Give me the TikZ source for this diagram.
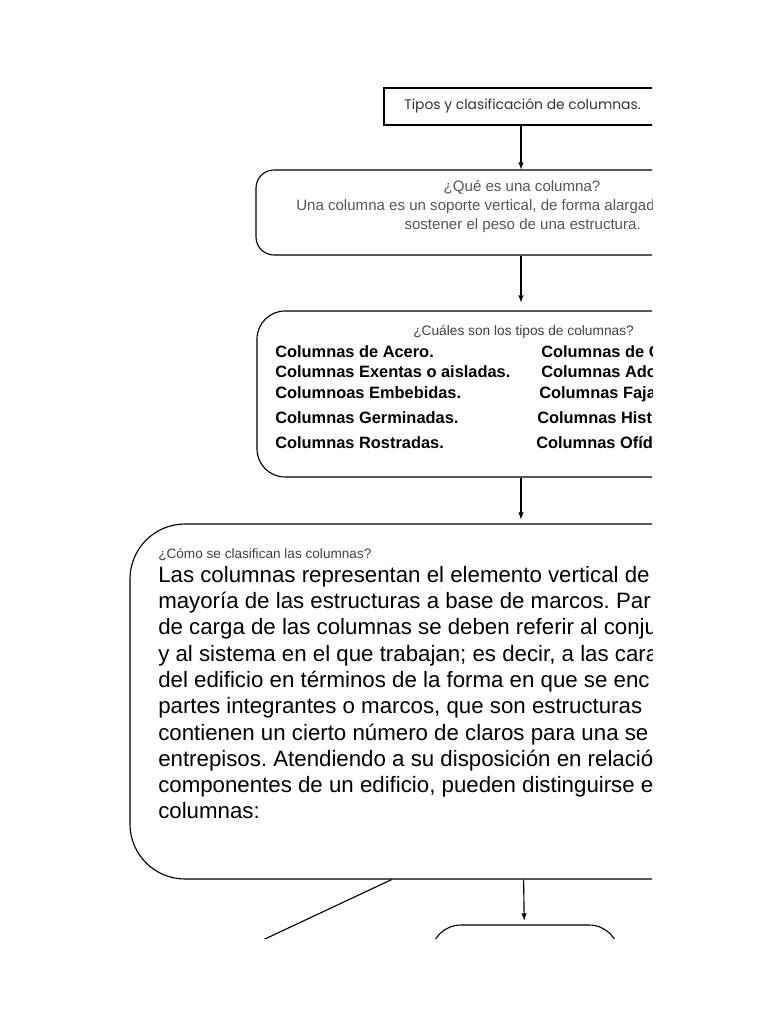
\documentclass[tikz,border=0pt]{standalone}
\usepackage{fontspec}
\setmainfont{Liberation Sans}
\newfontfamily\poppins{Poppins}
\definecolor{gris}{HTML}{555555}
\frenchspacing
\tikzset{
  rect/.style={draw, line width=0.3mm, inner sep=0pt},
  txt/.style={inner sep=0pt, anchor=west},
  item/.style={inner sep=0pt, anchor=base west, font=\bfseries\fontsize{12.3}{14}\selectfont}
}

\begin{document}
\begin{tikzpicture}[x=0.75pt, y=-0.75pt]
  \useasboundingbox (0,0) rectangle (768,1024);
  \begin{scope}
  \clip (0,0) rectangle (652,938);

  \node[rect, minimum width=205.5pt, minimum height=27.75pt] at (521,106.5) (titulo) {};
  \node[txt, font=\poppins\fontsize{10.4}{12}\selectfont, text=black!80] at (404,106) (titulo_txt) {Tipos y clasificación de columnas.};

  \node[rect, rounded corners=13.5pt, minimum width=397.5pt, minimum height=63.75pt] at (521,212.5) (que) {};
  \node[inner sep=0pt, font=\fontsize{11.3}{13}\selectfont, text=gris] at (522,187) (que_tit) {¿Qué es una columna?};
  \node[txt, font=\fontsize{11.3}{13}\selectfont, text=gris] at (296,207) (que_l1) {Una columna es un soporte vertical, de forma alargada};
  \node[inner sep=0pt, anchor=east, font=\fontsize{11.3}{13}\selectfont, text=gris] at (641,226) (que_l2) {sostener el peso de una estructura.};

  \node[rect, rounded corners=21pt, minimum width=396pt, minimum height=124.5pt] at (521,394) (tipos) {};
  \node[txt, font=\fontsize{10.3}{12}\selectfont, text=black!75] at (413,332) (tipos_tit) {¿Cuáles son los tipos de columnas?};
  \node[item] at (275,357) (acero) {Columnas de Acero.};
  \node[item] at (275,377) (exentas) {Columnas Exentas o aisladas.};
  \node[item] at (275,398) (embebidas) {Columnoas Embebidas.};
  \node[item] at (275,423) (germinadas) {Columnas Germinadas.};
  \node[item] at (275,448) (rostradas) {Columnas Rostradas.};
  \node[item] at (541,357) (de_c) {Columnas de C};
  \node[item] at (541,377) (ado) {Columnas Ado};
  \node[item] at (539,398) (faja) {Columnas Faja};
  \node[item] at (537,423) (hist) {Columnas Hist};
  \node[item] at (536,448) (ofid) {Columnas Ofíd};

  \node[rect, rounded corners=41.25pt, minimum width=586.5pt, minimum height=266.25pt] at (521,701.5) (clasif) {};
  \node[txt, font=\fontsize{10.2}{12}\selectfont, text=black!75] at (158,555) (clasif_tit) {¿Cómo se clasifican las columnas?};
  \node[inner sep=0pt, anchor=north west, align=left, font=\fontsize{16.7}{19.7}\selectfont] at (158,566) (clasif_txt) {
    Las columnas representan el elemento vertical de\\
    mayoría de las estructuras a base de marcos. Par\\
    de carga de las columnas se deben referir al conju\\
    y al sistema en el que trabajan; es decir, a las cara\\
    del edificio en términos de la forma en que se enc\\
    partes integrantes o marcos, que son estructuras\\
    contienen un cierto número de claros para una se\\
    entrepisos. Atendiendo a su disposición en relación\\
    componentes de un edificio, pueden distinguirse e\\
    columnas:
  };

  \node[rect, rounded corners=22.5pt, minimum width=141pt, minimum height=75pt] at (525,975) (sigue) {};
  \coordinate (otro) at (250,946);

  \draw[-latex, line width=0.3mm] (titulo) -- (que);
  \draw[-latex, line width=0.3mm, shorten >=6pt] (que) -- (tipos);
  \draw[-latex, line width=0.3mm, shorten >=3pt] (tipos) -- (clasif);
  \draw[-latex, line width=0.3mm, shorten >=3pt] (clasif) -- (sigue);
  \draw[-latex, line width=0.3mm] (clasif.234) -- (otro);
  \end{scope}
\end{tikzpicture}
\end{document}
